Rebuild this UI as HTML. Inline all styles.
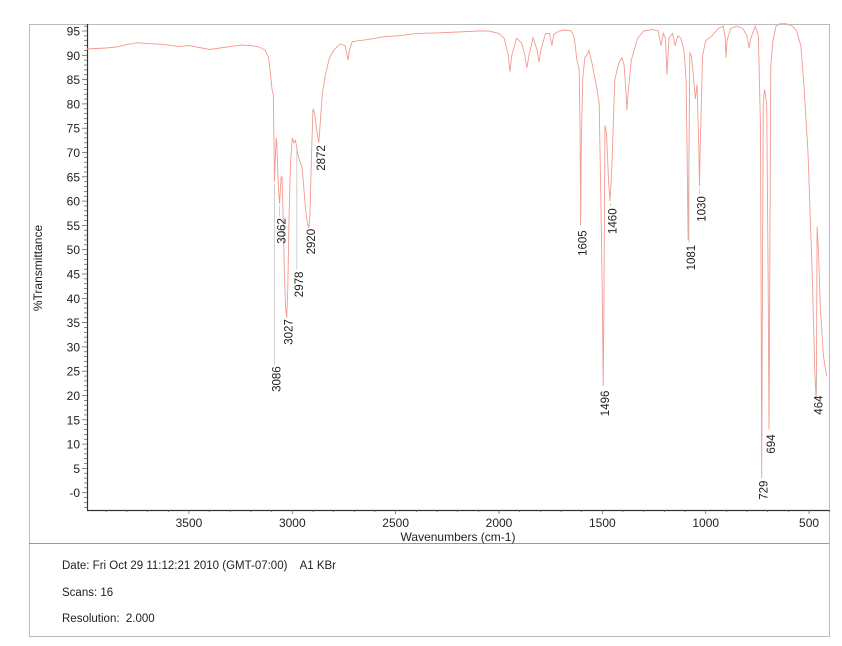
<!DOCTYPE html>
<html><head><meta charset="utf-8"><style>
body{margin:0;background:#fff;width:842px;height:646px;overflow:hidden;font-family:"Liberation Sans",sans-serif}
svg{display:block}
</style></head><body>
<svg id="chart" width="842" height="646" xmlns="http://www.w3.org/2000/svg" font-family="Liberation Sans, sans-serif">
<rect x="29.5" y="24.5" width="800" height="612" fill="#fff" stroke="#bbb"/>
<line x1="29" y1="543.5" x2="829" y2="543.5" stroke="#999"/>
<g id="axes"></g>
<g id="plot"></g>
<g id="labels"></g>
<text transform="translate(42,268) rotate(-90)" text-anchor="middle" font-size="12" fill="#222">%Transmittance</text>
<text x="458" y="541" text-anchor="middle" font-size="12" fill="#222">Wavenumbers (cm-1)</text>
<text x="62" y="569" font-size="11.5" fill="#222">Date: Fri Oct 29 11:12:21 2010 (GMT-07:00)&#160;&#160;&#160; A1 KBr</text>
<text x="62" y="596" font-size="11.5" fill="#222">Scans: 16</text>
<text x="62" y="622" font-size="11.5" fill="#222">Resolution:&#160; 2.000</text>
</svg>
<script>
const wavenumbers=[3995,3950,3900,3850,3800,3750,3700,3650,3600,3550,3500,3450,3400,3350,3300,3250,3200,3160,3130,3115,3105,3098,3092,3088,3086,3083,3078,3075,3070,3066,3062,3058,3054,3050,3045,3038,3032,3027,3022,3015,3008,3000,2992,2985,2978,2970,2960,2953,2945,2935,2925,2920,2915,2908,2900,2892,2880,2872,2865,2855,2840,2820,2800,2770,2745,2735,2730,2724,2710,2680,2640,2600,2560,2500,2450,2400,2300,2200,2100,2050,2000,1975,1955,1947,1938,1915,1890,1875,1865,1855,1835,1815,1806,1798,1775,1755,1744,1735,1710,1680,1650,1635,1623,1612,1607,1605,1602,1595,1585,1575,1565,1548,1535,1526,1515,1505,1499,1496,1493,1487,1480,1470,1463,1455,1440,1420,1405,1395,1385,1381,1376,1360,1330,1300,1260,1230,1216,1205,1195,1187,1178,1160,1148,1135,1120,1105,1095,1090,1085,1081,1077,1070,1060,1050,1042,1034,1030,1026,1015,1000,970,940,915,905,902,897,880,850,820,800,790,782,760,745,735,731,729,727,722,715,705,698,694,690,685,675,660,640,610,580,560,540,525,505,485,472,466,464,461,455,445,430,415,405];
const transmittance=[91.3,91.4,91.5,91.7,92.2,92.6,92.4,92.3,92.1,91.8,92.0,91.6,91.2,91.5,91.8,92.1,92.0,91.7,91.0,89.5,86,83,82,70,64,68,73,72,66,62,59.5,62,65,65,58,45,38,36,42,58,68,73,72,72.5,71,69,67.8,67,63,58,55,54.5,57,68,79,78,74,72,76,82,86,89.5,91,92.3,92,90,89,91,92.8,93,93.2,93.5,93.8,94,94.2,94.5,94.6,94.8,95,95,94.5,93.5,90,86.6,90,93.5,92.5,90,87.4,90,93.6,91,88.6,91,94.5,94.5,92,94.3,95,95.2,95,93.5,89,87,72,55,72,85,89.5,90,91,88,85,83,80,55,35,22,35,75.6,74,64,60,66,85,88.5,89.5,88,82,78.7,82,89,93.5,95,95.3,95,92,94.5,93.5,86,93.5,94.5,92,94,93.5,91,85,70,52,70,90.5,90,86,81,84,72,63,72,90,93,94,95.5,96,93.5,89.5,93,95.5,96,95.5,94,91.5,93.5,96,94,75,30,3,25,80,83,80,45,13,45,88,93,96,96.5,96.5,96,95,92,84,70,45,25,19,25,54.7,50,38,28,24];
const peakWn=[3086,3062,3027,2978,2920,2872,1605,1496,1460,1081,1030,729,694,464];
const peakLabelTop=[26,56.5,35.7,45.5,54.3,71.5,54,21,58.5,51,61,2.5,12,20];
const yTicks=[95,90,85,80,75,70,65,60,55,50,45,40,35,30,25,20,15,10,5,0];
const xTicks=[3500,3000,2500,2000,1500,1000,500];

const X0=87,X1=829,Y0=24,Y1=510;
function xs(w){return 499+(2000-w)*0.2067;}
function ys(t){return 31+(95-t)*4.86;}
const NS='http://www.w3.org/2000/svg';
function mk(tag,parent,attrs){const e=document.createElementNS(NS,tag);for(const k in attrs)e.setAttribute(k,attrs[k]);parent.appendChild(e);return e;}
const axes=document.getElementById('axes');
let a=mk('line',axes,{x1:X0+0.5,y1:Y0,x2:X0+0.5,y2:Y1,stroke:'#333','stroke-width':1.2});


a=mk('line',axes,{x1:X0,y1:Y1+0.5,x2:X1,y2:Y1+0.5,stroke:'#333','stroke-width':1.2});


for(let v=-3;v<=96;v++){const y=ys(v);if(y<Y0||y>Y1)continue;
 const t=mk('line',axes,{x1:X0-(v%5===0?5:3),y1:y,x2:X0,y2:y,stroke:'#555','stroke-width':0.7});
 
 }
yTicks.forEach(v=>{const t=mk('text',axes,{x:X0-7,y:ys(v)+4.5,'text-anchor':'end','font-size':12,fill:'#222'});t.textContent=v===0?'-0':String(v);
 
 });
for(let w=3900;w>=400;w-=100){const x=xs(w);
 const t=mk('line',axes,{x1:x,y1:Y1,x2:x,y2:Y1+(w%500===0?4:2),stroke:'#555','stroke-width':0.7});
 
 }
xTicks.forEach(w=>{const t=mk('text',axes,{x:xs(w),y:Y1+17,'text-anchor':'middle','font-size':12,fill:'#222'});t.textContent=String(w);
 
 });
const plot=document.getElementById('plot');
const pts=wavenumbers.map((w,i)=>xs(w).toFixed(1)+','+ys(transmittance[i]).toFixed(1)).join(' ');
const pl=mk('polyline',plot,{points:pts,fill:'none',stroke:'#f39a90','stroke-width':0.9});


const lab=document.getElementById('labels');
peakWn.forEach((w,i)=>{
 let mi=0,best=1e9;wavenumbers.forEach((ww,j)=>{if(Math.abs(ww-w)<best){best=Math.abs(ww-w);mi=j;}});
 const px=xs(w),py=ys(transmittance[mi]),ly=ys(peakLabelTop[i]);
 if(ly-py>6){const l=mk('line',lab,{x1:px,y1:py+2,x2:px,y2:ly-2,stroke:'#bbb','stroke-width':0.7});
  
  }
 const t=mk('text',lab,{transform:`translate(${(px+6).toFixed(1)},${ly.toFixed(1)}) rotate(-90)`,'text-anchor':'end','font-size':11.5,fill:'#222'});
 t.textContent=String(w);
 
 
});
</script>
</body></html>
